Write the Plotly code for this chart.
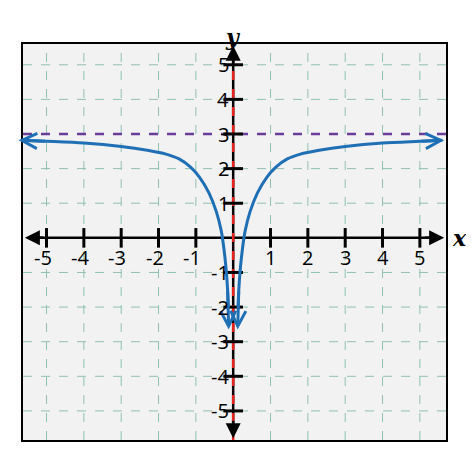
import plotly.graph_objects as go

left_x = [-5.7, -5, -4, -3, -2.3, -1.8, -1.45, -1.15, -0.9, -0.65, -0.45, -0.32, -0.25, -0.19, -0.15, -0.13]
left_y = [2.82, 2.79, 2.74, 2.64, 2.53, 2.42, 2.28, 2.05, 1.75, 1.3, 0.75, 0.2, -0.3, -0.9, -1.5, -2.0]
right_x = [0.13, 0.15, 0.19, 0.25, 0.32, 0.45, 0.65, 0.9, 1.15, 1.45, 1.8, 2.3, 3, 4, 5, 5.6]
right_y = [-2.0, -1.5, -0.9, -0.3, 0.2, 0.75, 1.3, 1.75, 2.05, 2.28, 2.42, 2.53, 2.64, 2.74, 2.79, 2.82]
asymptote_y = 3
ticks = [-5, -4, -3, -2, -1, 1, 2, 3, 4, 5]

XR = [-5.63, 5.7]
YR = [-5.84, 5.6]
blue = "#1f6fb5"
fig = go.Figure()
for t in ticks:
    fig.add_shape(type="line", x0=t, x1=t, y0=YR[0], y1=YR[1], line=dict(color="#8fc1b0", width=1, dash="dash"), layer="below")
    fig.add_shape(type="line", y0=t, y1=t, x0=XR[0], x1=XR[1], line=dict(color="#8fc1b0", width=1, dash="dash"), layer="below")
for (x, y, ax, ay) in [(XR[0]+0.05, 0, XR[0]+0.6, 0), (XR[1]-0.05, 0, XR[1]-0.6, 0), (0, YR[1]-0.05, 0, YR[1]-0.6), (0, YR[0]+0.05, 0, YR[0]+0.6)]:
    fig.add_annotation(x=x, y=y, ax=ax, ay=ay, xref="x", yref="y", axref="x", ayref="y", showarrow=True,
                       arrowhead=2, arrowsize=1.2, arrowwidth=2.5, arrowcolor="black", text="", standoff=0)
fig.add_trace(go.Scatter(x=[XR[0]+0.3, XR[1]-0.3], y=[0, 0], mode="lines", line=dict(color="black", width=2.5), hoverinfo="skip"))
fig.add_trace(go.Scatter(x=[0, 0], y=[YR[0]+0.3, YR[1]-0.3], mode="lines", line=dict(color="black", width=2.5), hoverinfo="skip"))
fig.add_trace(go.Scatter(x=[0, 0], y=[YR[0], YR[1]], mode="lines", line=dict(color="#e8231f", width=2.5, dash="dash"), hoverinfo="skip"))
fig.add_trace(go.Scatter(x=[XR[0], XR[1]], y=[asymptote_y]*2, mode="lines", line=dict(color="#6a3d9a", width=2.5, dash="dash"), hoverinfo="skip"))
fig.add_trace(go.Scatter(x=ticks, y=[0]*len(ticks), mode="markers", marker=dict(symbol="line-ns", size=14, line=dict(width=3, color="black"))))
fig.add_trace(go.Scatter(x=[0]*len(ticks), y=ticks, mode="markers", marker=dict(symbol="line-ew", size=14, line=dict(width=3, color="black"))))
for xs, ys in [(left_x, left_y), (right_x, right_y)]:
    fig.add_trace(go.Scatter(x=xs, y=ys, mode="lines", line=dict(color=blue, width=3, shape="spline", smoothing=0.8), hoverinfo="skip"))
for (x, y, ax, ay) in [(left_x[0]-0.05, left_y[0], left_x[1], left_y[1]), (right_x[-1]+0.05, right_y[-1], right_x[-2], right_y[-2]),
                       (-0.12, -2.65, left_x[-2], left_y[-2]), (0.12, -2.65, right_x[1], right_y[1])]:
    fig.add_annotation(x=x, y=y, ax=ax, ay=ay, xref="x", yref="y", axref="x", ayref="y", showarrow=True,
                       arrowhead=5, arrowsize=1, arrowwidth=3, arrowcolor=blue, text="", standoff=0)
fnt = dict(family="Open Sans", size=20, color="black")
for t in ticks:
    fig.add_annotation(x=t, y=0, text=str(t), showarrow=False, xanchor="center", yanchor="top", yshift=-4, xshift=-4 if t < 0 else 0, font=fnt)
    fig.add_annotation(x=0, y=t, text=str(t), showarrow=False, xanchor="right", yanchor="middle", xshift=-2, font=fnt)
fig.add_annotation(x=0, y=1, xref="x", yref="paper", text="<b><i>y</i></b>", showarrow=False, yanchor="bottom", yshift=-8,
                   font=dict(family="DejaVu Serif", size=22, color="black"))
fig.add_annotation(x=1, y=0, xref="paper", yref="y", text="<b><i>x</i></b>", showarrow=False, xanchor="left", xshift=4,
                   font=dict(family="DejaVu Serif", size=22, color="black"))
fig.update_xaxes(range=XR, showgrid=False, zeroline=False, showticklabels=False, showline=True, mirror=True, linecolor="black", linewidth=2)
fig.update_yaxes(range=YR, showgrid=False, zeroline=False, showticklabels=False, showline=True, mirror=True, linecolor="black", linewidth=2)
fig.update_layout(width=474, height=454, margin=dict(l=15, r=36, t=36, b=22), showlegend=False,
                  plot_bgcolor="#f2f2f2", paper_bgcolor="white")
fig.write_html("out.html")
